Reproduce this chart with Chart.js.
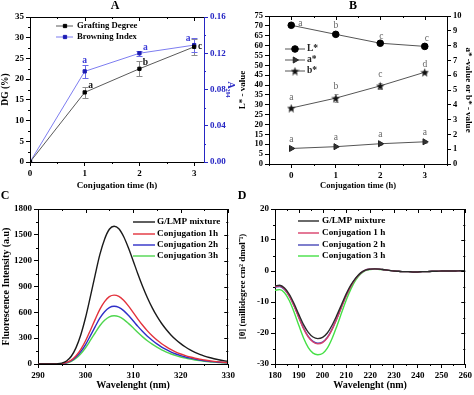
<!DOCTYPE html>
<html><head><meta charset="utf-8">
<script src="https://cdn.jsdelivr.net/npm/chart.js@4/dist/chart.umd.min.js"></script>
<style>
body{margin:0;background:#fff;width:474px;height:395px;overflow:hidden;position:relative}
canvas{position:absolute}
</style></head><body>
<canvas id="cA" width="237" height="195" style="left:0;top:0"></canvas>
<canvas id="cB" width="237" height="195" style="left:237px;top:0"></canvas>
<canvas id="cC" width="237" height="210" style="left:0;top:185px"></canvas>
<canvas id="cD" width="237" height="210" style="left:237px;top:185px"></canvas>
<script>
// ---------- DATA ----------
const timeH = [0, 1, 2, 3];
const graftingDegree = [0, 16.8, 22.5, 27.8];
const graftingErr = [0, 1.3, 1.8, 2.0];
const graftingLetters = ['', 'a', 'b', 'c'];
const browningIndex = [0, 0.100, 0.120, 0.129];
const browningErr = [0, 0.007, 0.003, 0.008];
const browningLetters = ['', 'a', 'a', 'a'];

const lStar = [70.3, 65.7, 61.2, 59.6];
const lStarErr = [0.6, 0.6, 0.7, 0.6];
const lStarLetters = ['a', 'b', 'c', 'c'];
const aStar = [1.05, 1.17, 1.37, 1.50];
const aStarErr = [0.06, 0.05, 0.07, 0.05];
const aStarLetters = ['a', 'a', 'a', 'a'];
const bStar = [3.78, 4.45, 5.28, 6.20];
const bStarErr = [0.06, 0.25, 0.2, 0.06];
const bStarLetters = ['a', 'b', 'c', 'd'];

const fluoWavelength = [290,291,292,293,294,295,296,297,298,299,300,301,302,303,304,305,306,307,308,309,310,311,312,313,314,315,316,317,318,319,320,321,322,323,324,325,326,327,328,329,330];
const fluoMixture = [0,0,0,0,2,10,35,90,190,340,540,780,1030,1270,1450,1565,1600,1570,1480,1350,1200,1045,900,770,655,555,470,398,335,282,236,197,164,136,112,92,75,61,49,39,31];
const fluoConj1h  = [0,0,0,0,1,5,18,45,95,170,270,390,515,635,725,782,800,785,740,675,600,522,450,385,328,278,235,198,166,139,116,97,81,67,55,46,38,31,25,20,16];
const fluoConj2h  = [0,0,0,0,1,4,15,38,80,143,226,327,431,532,607,655,670,657,620,565,502,437,377,322,275,233,197,166,139,116,97,81,68,56,46,38,31,26,21,17,14];
const fluoConj3h  = [0,0,0,0,1,3,12,31,66,119,189,273,360,444,507,548,560,550,518,472,420,365,315,270,230,195,165,139,116,97,81,68,57,47,39,32,26,22,18,14,12];

const cdWavelength = [180,182,184,186,188,190,192,194,196,198,200,202,204,206,208,210,212,214,216,218,220,222,224,226,228,230,232,234,236,238,240,242,244,246,248,250,252,254,256,258,260];
const cdMixture = [-4.8,-4.6,-5.5,-7.5,-10.5,-14.0,-17.3,-19.8,-21.3,-21.8,-21.4,-20.0,-17.5,-14.3,-10.8,-7.3,-4.4,-2.2,-0.6,0.3,0.6,0.7,0.6,0.4,0.2,0.0,-0.1,-0.2,-0.2,-0.3,-0.3,-0.2,-0.2,-0.1,-0.1,0.0,0.0,0.0,0.0,0.1,0.1];
const cdConj1h  = [-5.0,-4.8,-5.8,-8.0,-11.2,-15.0,-18.6,-21.3,-22.9,-23.5,-23.1,-21.6,-18.9,-15.4,-11.6,-7.9,-4.8,-2.4,-0.7,0.3,0.6,0.7,0.6,0.4,0.2,0.0,-0.1,-0.2,-0.2,-0.3,-0.3,-0.2,-0.2,-0.1,-0.1,0.0,0.0,0.0,0.0,0.1,0.1];
const cdConj2h  = [-5.2,-5.0,-6.0,-8.1,-11.2,-14.9,-18.4,-21.1,-22.7,-23.3,-22.9,-21.4,-18.7,-15.3,-11.5,-7.8,-4.7,-2.3,-0.7,0.3,0.6,0.7,0.6,0.4,0.2,0.0,-0.1,-0.2,-0.2,-0.3,-0.3,-0.2,-0.2,-0.1,-0.1,0.0,0.0,0.0,0.0,0.1,0.1];
const cdConj3h  = [-6.2,-6.0,-7.0,-9.5,-13.2,-17.5,-21.6,-24.7,-26.5,-27.0,-26.6,-24.9,-21.8,-17.8,-13.5,-9.3,-5.7,-2.9,-1.0,0.1,0.5,0.6,0.5,0.4,0.2,0.0,-0.1,-0.2,-0.2,-0.3,-0.3,-0.2,-0.2,-0.1,-0.1,0.0,0.0,0.0,0.0,0.1,0.1];

// ---------- HELPERS ----------
const SERIF = "'Liberation Serif','Times New Roman',serif";
const BLUE = '#2626c4';
function fnt(size, weight) { return { family: SERIF, size: size, weight: weight || 'bold' }; }
function pts(xs, ys) { return xs.map((x, i) => ({ x: x, y: ys[i] })); }

function axis(o) {
  const c = o.color || '#000';
  const a = {
    type: 'linear', position: o.position, min: o.min, max: o.max,
    grid: { drawOnChartArea: false, drawTicks: true, tickLength: 4, color: c, tickWidth: 1 },
    border: { display: true, color: c, width: 1 },
    ticks: { font: fnt(o.fs || 9), color: c, padding: 2, autoSkip: false, maxRotation: 0, stepSize: o.step,
             callback: o.cb || (v => String(v)) },
    title: { display: true, text: o.title, font: fnt(o.tfs || 10), color: c, padding: o.tp || { top: 0, bottom: 0 } },
    afterFit: s => { if (s.isHorizontal()) s.height = o.size; else s.width = o.size; }
  };
  if (o.ticksAt) a.afterBuildTicks = s => { s.ticks = o.ticksAt.map(v => ({ value: v })); };
  return a;
}

function makeStar(size, color) {
  const c = document.createElement('canvas'); c.width = size; c.height = size;
  const g = c.getContext('2d'); g.fillStyle = color; g.beginPath();
  const cx = size / 2, cy = size / 2 + 0.5, R = size / 2, r = R * 0.42;
  for (let k = 0; k < 10; k++) {
    const ang = -Math.PI / 2 + k * Math.PI / 5, rr = k % 2 ? r : R;
    const x = cx + rr * Math.cos(ang), y = cy + rr * Math.sin(ang);
    k ? g.lineTo(x, y) : g.moveTo(x, y);
  }
  g.closePath(); g.fill(); return c;
}

function decor(o) {
  return {
    id: 'decor',
    beforeDatasetsDraw(chart) {
      const ctx = chart.ctx;
      (o.errors || []).forEach(e => {
        const ds = chart.data.datasets[e.ds], ys = chart.scales[ds.yAxisID], xs = chart.scales.x;
        ctx.save(); ctx.strokeStyle = e.color; ctx.lineWidth = 1;
        ds.data.forEach((p, i) => {
          const er = e.err[i]; if (!er) return;
          const x = Math.round(xs.getPixelForValue(p.x)) + 0.5;
          const y1 = Math.round(ys.getPixelForValue(p.y - er)) + 0.5, y2 = Math.round(ys.getPixelForValue(p.y + er)) + 0.5;
          ctx.beginPath(); ctx.moveTo(x, y1); ctx.lineTo(x, y2);
          ctx.moveTo(x - e.cap, y1); ctx.lineTo(x + e.cap, y1);
          ctx.moveTo(x - e.cap, y2); ctx.lineTo(x + e.cap, y2); ctx.stroke();
        });
        ctx.restore();
      });
    },
    afterDraw(chart) {
      const ctx = chart.ctx, ca = chart.chartArea;
      ctx.save();
      ctx.strokeStyle = '#000'; ctx.lineWidth = 1; ctx.beginPath();
      ctx.moveTo(ca.left, Math.round(ca.top) + 0.5); ctx.lineTo(ca.right, Math.round(ca.top) + 0.5);
      if (o.rightFrame) { ctx.moveTo(Math.round(ca.right) - 0.5, ca.top); ctx.lineTo(Math.round(ca.right) - 0.5, ca.bottom); }
      ctx.stroke();
      (o.tickMarks || []).forEach(t => {
        const s = chart.scales[t.axis]; ctx.strokeStyle = t.color || '#000'; ctx.beginPath();
        t.values.forEach(v => {
          const p = Math.round(s.getPixelForValue(v)) + 0.5;
          if (s.isHorizontal()) {
            if (t.bottom) { ctx.moveTo(p, ca.bottom); ctx.lineTo(p, ca.bottom + t.len); }
            if (t.top) { ctx.moveTo(p, ca.top); ctx.lineTo(p, ca.top + t.len); }
          } else {
            if (t.outside) {
              const left = s.position === 'left';
              const x0 = left ? ca.left : ca.right, d = left ? -1 : 1;
              ctx.moveTo(x0, p); ctx.lineTo(x0 + d * t.len, p);
            }
            if (t.mirror) { ctx.moveTo(ca.right, p); ctx.lineTo(ca.right - t.len, p); }
          }
        });
        ctx.stroke();
      });
      (o.letters || []).forEach(L => {
        const ds = chart.data.datasets[L.ds], ys = chart.scales[ds.yAxisID], xs = chart.scales.x;
        ctx.fillStyle = L.color; ctx.font = L.font; ctx.textAlign = 'center'; ctx.textBaseline = 'middle';
        ds.data.forEach((p, i) => {
          const t = L.text[i]; if (!t) return; const off = L.off[i];
          ctx.fillText(t, xs.getPixelForValue(p.x) + off[0], ys.getPixelForValue(p.y) + off[1]);
        });
      });
      if (o.legend) {
        const lg = o.legend;
        chart.data.datasets.forEach((ds, i) => {
          const y = lg.y[i];
          ctx.strokeStyle = ds.borderColor; ctx.lineWidth = lg.lw || 1;
          ctx.beginPath(); ctx.moveTo(lg.x1, y); ctx.lineTo(lg.x2, y); ctx.stroke();
          if (lg.marker && Chart.helpers && Chart.helpers.drawPoint) {
            ctx.fillStyle = ds.pointBackgroundColor; ctx.strokeStyle = ds.pointBorderColor; ctx.lineWidth = 1;
            Chart.helpers.drawPoint(ctx, { pointStyle: ds.pointStyle, radius: ds.pointRadius, rotation: ds.pointRotation || 0, borderWidth: 1 }, lg.mx, y);
          }
          ctx.fillStyle = lg.color || '#000'; ctx.font = lg.font; ctx.textAlign = 'left'; ctx.textBaseline = 'middle';
          ctx.fillText(ds.label, lg.tx, y);
        });
      }
      ctx.fillStyle = '#000'; ctx.font = 'bold 12px ' + SERIF; ctx.textAlign = 'center'; ctx.textBaseline = 'middle';
      ctx.fillText(o.panel, o.px, o.py);
      ctx.restore();
    }
  };
}

const baseOpts = (pad) => ({
  responsive: false, animation: false, devicePixelRatio: 1,
  layout: { padding: pad },
  plugins: { legend: { display: false }, tooltip: { enabled: false } },
  elements: { line: { tension: 0 } }
});

// ---------- PANEL A ----------
{
  const opts = baseOpts({ left: 0, right: 0, top: 17, bottom: 0 });
  opts.scales = {
    x: axis({ min: 0, max: 3.18, ticksAt: [0, 1, 2, 3], size: 33, title: 'Conjugation time (h)', tfs: 9, tp: { top: 1, bottom: 4 } }),
    y: axis({ position: 'left', min: 0, max: 35, step: 5, size: 30, title: 'DG (%)', tfs: 9.5, tp: { top: 0, bottom: 2 } }),
    y2: axis({ position: 'right', min: 0, max: 0.16, step: 0.04, size: 33, color: BLUE, title: 'A₂₉₄', tfs: 10, cb: v => v.toFixed(2) })
  };
  new Chart(document.getElementById('cA'), {
    type: 'line',
    data: { datasets: [
      { label: 'Grafting Degree', data: pts(timeH, graftingDegree), yAxisID: 'y', borderColor: '#5a5a5a', borderWidth: 1,
        pointStyle: 'rect', pointRadius: 2.3, pointBackgroundColor: '#000', pointBorderColor: '#000' },
      { label: 'Browning Index', data: pts(timeH, browningIndex), yAxisID: 'y2', borderColor: '#7d7df0', borderWidth: 1,
        pointStyle: 'rect', pointRadius: 2.3, pointBackgroundColor: '#1c1cb4', pointBorderColor: '#1c1cb4' }
    ] },
    options: opts,
    plugins: [decor({
      panel: 'A', px: 115, py: 6,
      errors: [ { ds: 0, err: graftingErr, color: '#8a8a8a', cap: 3 }, { ds: 1, err: browningErr, color: '#6a6ae6', cap: 3 } ],
      tickMarks: [
        { axis: 'x', values: [1, 2, 3], top: true, len: 4 },
        { axis: 'x', values: [0.5, 1.5, 2.5], top: true, bottom: true, len: 2 },
        { axis: 'y', values: [2.5, 7.5, 12.5, 17.5, 22.5, 27.5, 32.5], outside: true, len: 2 },
        { axis: 'y2', values: [0.02, 0.06, 0.1, 0.14], outside: true, len: 2, color: BLUE }
      ],
      letters: [
        { ds: 0, text: graftingLetters, color: '#111', font: 'bold 9.5px ' + SERIF, off: [[0,0],[6,-7],[6,-6],[6,0]] },
        { ds: 1, text: browningLetters, color: '#3a3ad8', font: 'bold 9.5px ' + SERIF, off: [[0,0],[0,-11],[6,-6],[-6,-7]] }
      ],
      legend: { x1: 56, x2: 73, mx: 65, tx: 77, y: [26, 37], marker: true, font: 'bold 8.7px ' + SERIF }
    })]
  });
}

// ---------- PANEL B ----------
{
  const starImg = makeStar(9, '#111');
  const opts = baseOpts({ left: 0, right: 0, top: 16, bottom: 0 });
  opts.scales = {
    x: axis({ min: -0.5, max: 3.5, ticksAt: [0, 1, 2, 3], size: 31, title: 'Conjugation time (h)', tfs: 8.5, tp: { top: 1, bottom: 4 } }),
    y: axis({ position: 'left', min: 0, max: 75, step: 5, size: 32, fs: 8.5, title: 'L* - value', tfs: 9, tp: { top: 0, bottom: 2 } }),
    y2: axis({ position: 'right', min: 0, max: 10, step: 1, size: 27, fs: 8.5, title: 'a* -value or b* - value', tfs: 9, tp: { top: 0, bottom: 0 } })
  };
  new Chart(document.getElementById('cB'), {
    type: 'line',
    data: { datasets: [
      { label: 'L*', data: pts(timeH, lStar), yAxisID: 'y', borderColor: '#555', borderWidth: 1,
        pointStyle: 'circle', pointRadius: 3.3, pointBackgroundColor: '#000', pointBorderColor: '#000' },
      { label: 'a*', data: pts(timeH, aStar), yAxisID: 'y2', borderColor: '#555', borderWidth: 1,
        pointStyle: 'triangle', pointRotation: 90, pointRadius: 3.5, pointBackgroundColor: '#333', pointBorderColor: '#222' },
      { label: 'b*', data: pts(timeH, bStar), yAxisID: 'y2', borderColor: '#555', borderWidth: 1,
        pointStyle: starImg, pointRadius: 4, pointBackgroundColor: '#111', pointBorderColor: '#111' }
    ] },
    options: opts,
    plugins: [decor({
      panel: 'B', px: 116, py: 6,
      errors: [ { ds: 0, err: lStarErr, color: '#999', cap: 2 }, { ds: 1, err: aStarErr, color: '#999', cap: 2 }, { ds: 2, err: bStarErr, color: '#999', cap: 2 } ],
      tickMarks: [
        { axis: 'x', values: [0, 1, 2, 3], top: true, len: 4 },
        { axis: 'x', values: [-0.5, 0.5, 1.5, 2.5, 3.5], top: true, bottom: true, len: 2 }
      ],
      letters: [
        { ds: 0, text: lStarLetters, color: '#666', font: '9.5px ' + SERIF, off: [[9,-2],[0,-9],[1,-7],[2,-8]] },
        { ds: 1, text: aStarLetters, color: '#666', font: '9.5px ' + SERIF, off: [[0,-9],[0,-9],[0,-9],[0,-9]] },
        { ds: 2, text: bStarLetters, color: '#666', font: '9.5px ' + SERIF, off: [[0,-11],[0,-12],[0,-11],[0,-8]] }
      ],
      legend: { x1: 48, x2: 68, mx: 58, tx: 70, y: [49, 60, 71], marker: true, color: '#222', font: 'bold 9.5px ' + SERIF }
    })]
  });
}

// ---------- PANEL C ----------
{
  const opts = baseOpts({ left: 0, right: 7, top: 24, bottom: 0 });
  opts.elements.point = { radius: 0 };
  opts.scales = {
    x: axis({ min: 290, max: 330, step: 10, size: 31, title: 'Wavelenght (nm)', tfs: 10, tp: { top: 1, bottom: 4 } }),
    y: axis({ position: 'left', min: 0, max: 1800, step: 300, size: 38, title: 'Fluorescence Intensity (a.u)', tfs: 10, tp: { top: 0, bottom: 2 } })
  };
  const mk = (label, vals, color) => ({ label: label, data: pts(fluoWavelength, vals), yAxisID: 'y', borderColor: color, borderWidth: 1.4, pointRadius: 0, cubicInterpolationMode: 'monotone' });
  new Chart(document.getElementById('cC'), {
    type: 'line',
    data: { datasets: [
      mk('G/LMP mixture', fluoMixture, '#1a1a1a'),
      mk('Conjugation 1h', fluoConj1h, '#e3323c'),
      mk('Conjugation 2h', fluoConj2h, '#2e2ec8'),
      mk('Conjugation 3h', fluoConj3h, '#4fd64f')
    ] },
    options: opts,
    plugins: [decor({
      panel: 'C', px: 5, py: 11, rightFrame: true,
      tickMarks: [
        { axis: 'x', values: [290, 300, 310, 320, 330], top: true, len: 4 },
        { axis: 'x', values: [295, 305, 315, 325], top: true, bottom: true, len: 2 },
        { axis: 'y', values: [300, 600, 900, 1200, 1500], mirror: true, len: 4 },
        { axis: 'y', values: [150, 450, 750, 1050, 1350, 1650], mirror: true, outside: true, len: 2 }
      ],
      legend: { x1: 133, x2: 155, tx: 157, y: [37, 49, 60, 71], lw: 1.4, font: 'bold 9.2px ' + SERIF }
    })]
  });
}

// ---------- PANEL D ----------
{
  const opts = baseOpts({ left: 0, right: 8, top: 24, bottom: 0 });
  opts.elements.point = { radius: 0 };
  opts.scales = {
    x: axis({ min: 180, max: 260, step: 10, size: 31, title: 'Wavelenght (nm)', tfs: 10, tp: { top: 1, bottom: 4 } }),
    y: axis({ position: 'left', min: -30, max: 20, step: 10, size: 38, title: '[θ] (millidegree cm² dmol⁻¹)', tfs: 9, tp: { top: 0, bottom: 2 } })
  };
  const mk = (label, vals, color) => ({ label: label, data: pts(cdWavelength, vals), yAxisID: 'y', borderColor: color, borderWidth: 1.4, pointRadius: 0, cubicInterpolationMode: 'monotone' });
  new Chart(document.getElementById('cD'), {
    type: 'line',
    data: { datasets: [
      mk('G/LMP mixture', cdMixture, '#2a2a2a'),
      mk('Conjugation 1 h', cdConj1h, '#d8406a'),
      mk('Conjugation 2 h', cdConj2h, '#4848b8'),
      mk('Conjugation 3 h', cdConj3h, '#46e046')
    ] },
    options: opts,
    plugins: [decor({
      panel: 'D', px: 5, py: 11, rightFrame: true,
      tickMarks: [
        { axis: 'x', values: [180, 190, 200, 210, 220, 230, 240, 250, 260], top: true, len: 4 },
        { axis: 'x', values: [185, 195, 205, 215, 225, 235, 245, 255], top: true, bottom: true, len: 2 },
        { axis: 'y', values: [-20, -10, 0, 10], mirror: true, len: 4 },
        { axis: 'y', values: [-25, -15, -5, 5, 15], mirror: true, outside: true, len: 2 }
      ],
      legend: { x1: 61, x2: 82, tx: 85, y: [36, 48, 60, 71], lw: 1.4, font: 'bold 9.2px ' + SERIF }
    })]
  });
}
</script>
</body></html>
